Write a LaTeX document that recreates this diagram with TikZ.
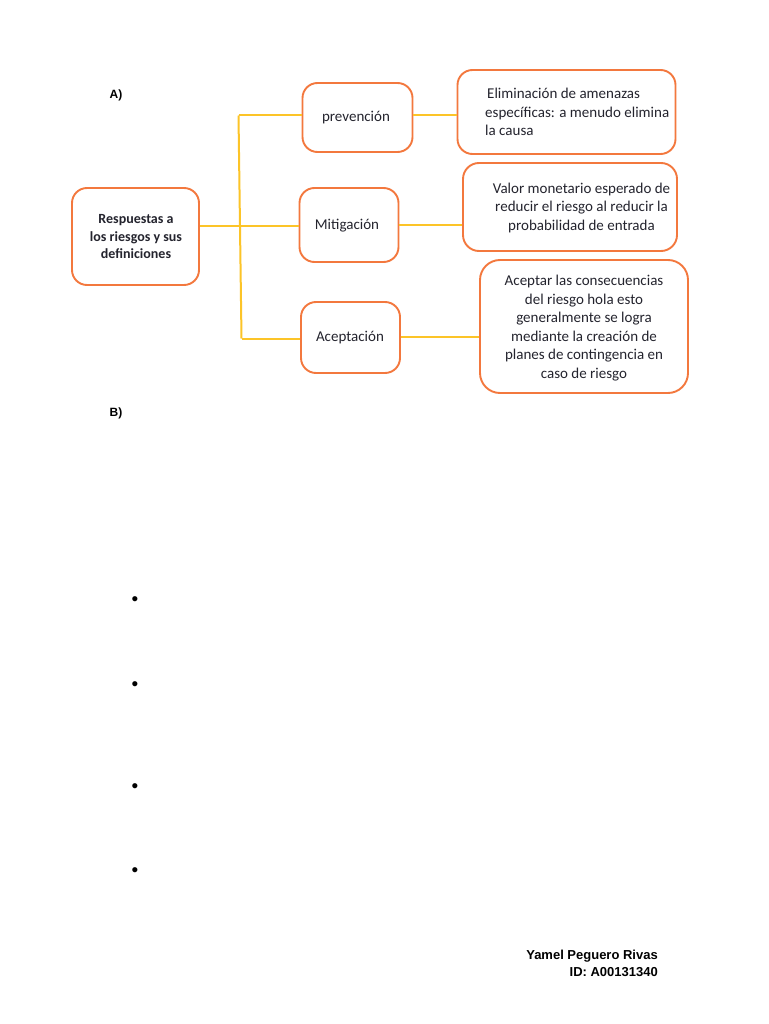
\documentclass[tikz,border=0pt]{standalone}
\usepackage{fontspec}
\setmainfont{Carlito}
\newfontfamily\arialf{Liberation Sans}
\definecolor{boxorange}{RGB}{243,120,62}
\definecolor{lineyellow}{RGB}{252,196,40}
\definecolor{txtgray}{RGB}{36,36,46}
\begin{document}
\begin{tikzpicture}[x=1pt,y=-1pt,
  box/.style={draw=boxorange,line width=1.9pt,rounded corners=15pt,inner sep=0pt,fill=white},
  boxtext/.style={text=txtgray,font=\fontsize{15}{18.75}\selectfont,inner sep=0pt,align=center},
  conn/.style={draw=lineyellow,line width=2pt},
  head/.style={font=\arialf\bfseries\fontsize{12}{14}\selectfont,inner sep=0pt},
  bul/.style={font=\arialf\fontsize{19}{20}\selectfont,inner sep=0pt}]
\useasboundingbox (0,0) rectangle (768,1024);
\fill[white] (0,0) rectangle (768,1024);

% boxes
\node[box,minimum width=127pt,minimum height=97pt] (c) at (135.5,236.5) {};
\node[box,minimum width=110pt,minimum height=69pt] (p) at (357.5,117.5) {};
\node[box,minimum width=99pt,minimum height=74pt] (m) at (349,225) {};
\node[box,minimum width=99pt,minimum height=71pt] (a) at (350.5,337.5) {};
\node[box,minimum width=218pt,minimum height=84pt] (e) at (566.5,112) {};
\node[box,minimum width=214pt,minimum height=88pt,rounded corners=16pt] (v) at (570,207) {};
\node[box,minimum width=208pt,minimum height=133pt,rounded corners=20pt] (r) at (584,326.5) {};

% connectors
\coordinate (jt) at (238.5,115.5);
\coordinate (jb) at (241.5,338.5);
\coordinate (ym) at (0,226.5);
\coordinate (yp) at (0,115.5);
\coordinate (ya) at (0,336.5);
\draw[conn] (c.east |- ym) -- (m.west |- ym);
\draw[conn] (jt) -- (jb);
\draw[conn] (jt) -- (jt -| p.west);
\draw[conn] (jb) -- (jb -| a.west);
\draw[conn] (p.east |- yp) -- (e.west |- yp);
\draw[conn] (m.east |- 0,225.5) -- (v.west |- 0,225.5);
\draw[conn] (a.east |- ya) -- (r.west |- ya);

% texts
\node[boxtext,font=\bfseries\fontsize{14}{17.5}\selectfont] (ct) at (136,237) {Respuestas a\\los riesgos y sus\\definiciones};
\node[boxtext] (pt) at (356,118) {prevención};
\node[boxtext] (mt) at (347,226) {Mitigación};
\node[boxtext] (at) at (350,338) {Aceptación};
\node[boxtext,align=left,anchor=west] (et) at (485,112) {\hspace*{2pt}Eliminación de amenazas\\específicas: a menudo elimina\\la causa};
\node[boxtext] (vt) at (581.5,208) {Valor monetario esperado de\\reducir el riesgo al reducir la\\probabilidad de entrada};
\node[boxtext,font=\fontsize{15}{18.5}\selectfont] (rt) at (584,328) {Aceptar las consecuencias\\del riesgo hola esto\\generalmente se logra\\mediante la creación de\\planes de contingencia en\\caso de riesgo};

% headings
\node[head] (ha) at (116,95) {A)};
\node[head] (hb) at (116,413) {B)};

% bullets
\node[bul] (b1) at (135,601) {•};
\node[bul] (b2) at (135,686) {•};
\node[bul] (b3) at (135,788) {•};
\node[bul] (b4) at (135,872) {•};

% signature
\node[head,font=\arialf\bfseries\fontsize{13}{16}\selectfont,anchor=east] (s1) at (658,956) {Yamel Peguero Rivas};
\node[head,font=\arialf\bfseries\fontsize{13}{16}\selectfont,anchor=east] (s2) at (658,972) {ID: A00131340};
\end{tikzpicture}
\end{document}
